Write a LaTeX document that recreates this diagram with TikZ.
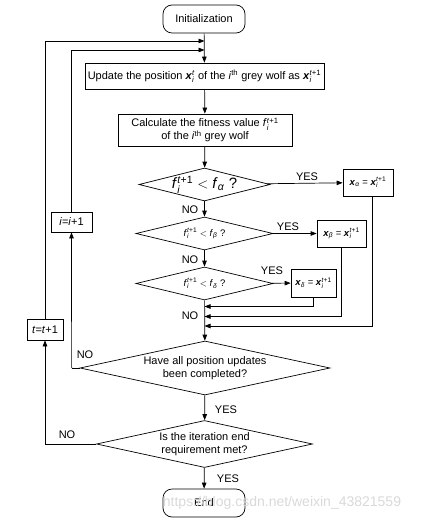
\documentclass[tikz,border=0pt]{standalone}
\usepackage{amsmath}
\usepackage{fontspec}
\setmainfont{Liberation Sans}
\usetikzlibrary{arrows.meta,shapes.geometric}
\newcommand{\vx}{\textbf{\textit{x}}}
\newcommand{\vi}[1]{\textit{#1}}
\newcommand{\SI}[1]{\ensuremath{_{\text{\vi{i}}}^{\text{#1}}}}
\begin{document}
\begin{tikzpicture}[x=1pt,y=-1pt,line width=0.7pt,
  arr/.style={-{Triangle[length=6pt,width=4.5pt]}},
  txt/.style={font=\fontsize{11}{13}\selectfont},
  proc/.style={draw,rectangle,inner sep=0pt,align=center,txt},
  term/.style={proc,rounded corners=9pt,minimum width=82pt,minimum height=28pt},
  small/.style={font=\fontsize{9.5}{11}\selectfont},
  dec/.style={draw,diamond,inner sep=0pt},
  dtxt/.style={align=center,inner sep=0pt,txt},
  lbl/.style={txt,inner sep=0pt}]
\useasboundingbox (0,0) rectangle (427,521);
\node[term] (init) at (204,19) {Initialization};
\node[proc,minimum width=239pt,minimum height=26pt] (upd) at (204.5,76)
  {Update the position \vx\SI{\vi{t}} of the \vi{i}\ensuremath{^{\text{th}}} grey wolf as \vx\SI{\vi{t}+1}};
\node[proc,minimum width=174pt,minimum height=32pt] (calc) at (205,130)
  {Calculate the fitness value \vi{f}\SI{\vi{t}+1}\\of the \vi{i}\ensuremath{^{\text{th}}} grey wolf};
\node[dec,minimum width=131pt,minimum height=33pt] (d1) at (204.5,184.5) {};
\node[dtxt,font=\fontsize{15}{17}\selectfont] (d1t) at (d1)
  {\vi{f}\SI{\vi{t}+1} $<$ \vi{f}\ensuremath{_{\text{\vi{α}}}} ?};
\node[dec,minimum width=137pt,minimum height=33pt] (d2) at (204.5,233.5) {};
\node[dtxt,small] (d2t) at (d2) {\vi{f}\SI{\vi{t}+1} $<$ \vi{f}\ensuremath{_{\text{\vi{β}}}} ?};
\node[dec,minimum width=137pt,minimum height=33pt] (d3) at (204.5,283.5) {};
\node[dtxt,small] (d3t) at (d3) {\vi{f}\SI{\vi{t}+1} $<$ \vi{f}\ensuremath{_{\text{\vi{δ}}}} ?};
\node[proc,small,minimum width=50pt,minimum height=27pt] (bA) at (368,182.5)
  {\vx\ensuremath{_{\text{\vi{α}}}} = \vx\SI{\vi{t}+1}};
\node[proc,small,minimum width=49pt,minimum height=27pt] (bB) at (341.5,233.5)
  {\vx\ensuremath{_{\text{\vi{β}}}} = \vx\SI{\vi{t}+1}};
\node[proc,small,minimum width=45pt,minimum height=28pt] (bD) at (313.5,283)
  {\vx\ensuremath{_{\text{\vi{δ}}}} = \vx\SI{\vi{t}+1}};
\node[dec,minimum width=250pt,minimum height=54pt] (d4) at (205,368) {};
\node[dtxt] (d4t) at (d4) {Have all position updates\\been completed?};
\node[dec,minimum width=216pt,minimum height=47pt] (d5) at (204.5,444) {};
\node[dtxt] (d5t) at (d5) {Is the iteration end\\requirement met?};
\node[proc,minimum width=41pt,minimum height=20pt] (ii) at (71.5,222) {\vi{i}=\vi{i}+1};
\node[proc,minimum width=36pt,minimum height=21pt] (tt) at (45,329.5) {\vi{t}=\vi{t}+1};
\node[term] (end) at (204,503) {End};
% coordinates
\coordinate (jA) at (204.5,41);
\coordinate (jB) at (204.5,50);
\coordinate (rD) at (204.5,306.5);
\coordinate (rB) at (204.5,316.5);
\coordinate (rA) at (204.5,326);
\coordinate (aA) at (372,326);
% main flow
\draw[arr] (init) -- (upd);
\draw[arr] (upd) -- (calc);
\draw[arr] (calc) -- (d1);
\draw[arr] (d1) -- (d2);
\draw[arr] (d2) -- (d3);
\draw[arr] (d3) -- (d4);
\draw[arr] (d4) -- (d5);
\draw[arr] (d5) -- (end);
\draw[arr] (d1) -- (bA);
\draw[arr] (d2) -- (bB);
\draw[arr] (d3) -- (bD);
\draw[arr] (bD.south) |- (rD);
\draw[arr] (bB.south) |- (rB);
\draw[arr] ([xshift=4pt]bA.south) -- (aA) -- (rA);
\draw (d4.west) -- ++(-8,0) coordinate (d4w);
\draw[arr] (d4w) -- (ii.south);
\draw[arr] (ii.north) |- (jB);
\draw[arr] (d5.west) -| (tt.south);
\draw[arr] (tt.north) |- (jA);
% labels
\node[lbl] at (307,177) {YES};
\node[lbl] at (288,227) {YES};
\node[lbl] at (272,271) {YES};
\node[lbl] at (190,210) {NO};
\node[lbl] at (190,260) {NO};
\node[lbl] at (190,316) {NO};
\node[lbl] at (85,355) {NO};
\node[lbl] at (226,410) {YES};
\node[lbl] at (67,435) {NO};
\node[lbl] at (228,479) {YES};
\node[font=\fontsize{14}{16}\selectfont,text=gray!30,inner sep=0pt] (wm) at (282,503) {https://blog.csdn.net/weixin\_43821559};
\end{tikzpicture}
\end{document}
